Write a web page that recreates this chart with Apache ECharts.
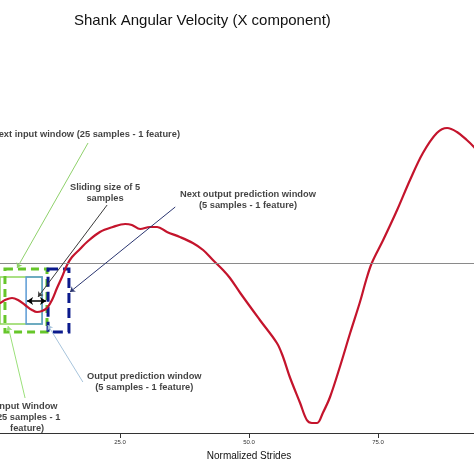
<!DOCTYPE html>
<html>
<head>
<meta charset="utf-8">
<script src="https://cdn.jsdelivr.net/npm/echarts@6/dist/echarts.min.js"></script>
<style>
  html, body { margin: 0; padding: 0; background: #fff; }
  #main { width: 474px; height: 474px; }
</style>
</head>
<body>
<div id="main"></div>
<script>
// 曲线数据（横轴：归一化步幅，纵轴：角速度）
var strides = [1.0, 1.74, 2.71, 4.07, 5.23, 6.59, 7.95, 8.91, 9.88, 10.85, 11.82, 12.79, 13.76, 14.73,
  15.7, 17.25, 18.6, 21.1, 23.6, 26.0, 27.3, 28.9, 30.8, 32.2, 34.1, 36.6, 39.1, 41.1, 43.0, 44.96,
  46.3, 48.3, 52.1, 55.4, 56.6, 57.9, 59.9, 61.2, 62.2, 63.2, 64.3, 65.7, 67.6, 69.6, 71.5, 72.7,
  73.8, 76.0, 78.7, 81.2, 83.7, 86.4, 88.4, 90.3, 92.2, 93.6, 94.5];
var velocity = [-41, -40, -37, -35, -37, -42, -47, -49, -48, -45, -37, -25, -14, -2,
  6, 14, 21, 31, 36, 39, 38, 34, 36, 36, 31, 26, 20, 13, 3, -7,
  -15, -30, -57, -80, -94, -114, -140, -157, -160, -160, -150, -134, -104, -70, -39, -17,
  0, 23, 53, 83, 110, 130, 135, 131, 123, 116, 110];

// 可见横轴范围与刻度
var xRange = [1.74, 93.6];
var xTicks = [25, 50, 75];

// 窗口框（数据坐标）
var boxNames = ['input', 'output', 'nextInput', 'nextOutput'];
var boxX = [[0, 9.9], [6.8, 9.9], [2.7, 10.85], [11.05, 15.1]];
var boxY = [[-14, -61], [-14, -61], [-6, -69], [-6, -69]];

// 引线（起点 -> 终点，数据坐标）
var leaderNames = ['nextInput', 'sliding', 'nextOutput', 'output', 'input'];
var leaderFrom = [[18.8, 120], [22.5, 58], [35.7, 56], [17.8, -119], [6.6, -135]];
var leaderTo = [[5.04, -5], [9.1, -34], [15.3, -29], [11.0, -62], [3.3, -63]];

// 滑动箭头
var slideFrom = [6.98, -38];
var slideTo = [10.66, -38];

// 注释文字
var noteTexts = [
  'Next input window (25 samples - 1 feature)',
  'Sliding size of 5\nsamples',
  'Next output prediction window\n(5 samples - 1 feature)',
  'Output prediction window\n(5 samples - 1 feature)',
  'Input Window\n(25 samples - 1\nfeature)'
];
var noteX = [18.4, 22.1, 49.8, 29.7, 7.0];
var noteY = [129, 70, 63, -119, -154];

var boxStyle = {
  input: { borderColor: '#8fd65c', borderWidth: 1.5, borderType: 'solid' },
  output: { borderColor: '#5b9bd5', borderWidth: 1.5, borderType: 'solid' },
  nextInput: { borderColor: '#66c62a', borderWidth: 3, borderType: [8, 5] },
  nextOutput: { borderColor: '#0b1a8c', borderWidth: 3, borderType: [10, 5] }
};
var leaderColor = {
  nextInput: '#8fd16b',
  sliding: '#3a3a3a',
  nextOutput: '#2a3570',
  output: '#a7c4dc',
  input: '#9be07a'
};

var chart = echarts.init(document.getElementById('main'));

var curve = strides.map(function (x, i) { return [x, velocity[i]]; });

var areaData = boxNames.map(function (n, i) {
  var s = boxStyle[n];
  return [
    { coord: [boxX[i][0], boxY[i][0]], itemStyle: {
      color: 'rgba(0,0,0,0)', borderColor: s.borderColor,
      borderWidth: s.borderWidth, borderType: s.borderType } },
    { coord: [boxX[i][1], boxY[i][1]] }
  ];
});

var lineData = [{ yAxis: 0, symbol: 'none', lineStyle: { color: '#8a8a8a', width: 1, type: 'solid' } }];
leaderNames.forEach(function (n, i) {
  lineData.push([
    { coord: leaderFrom[i], symbol: 'none', lineStyle: { color: leaderColor[n], width: 1, type: 'solid' } },
    { coord: leaderTo[i], symbol: 'arrow', symbolSize: 5 }
  ]);
});
lineData.push([
  { coord: slideFrom, symbol: 'arrow', symbolSize: 6, lineStyle: { color: '#000', width: 1.5, type: 'solid' } },
  { coord: slideTo, symbol: 'arrow', symbolSize: 6 }
]);

var option = {
  animation: false,
  title: {
    text: 'Shank Angular Velocity (X component)',
    left: 69,
    top: 8,
    textStyle: { fontFamily: 'Liberation Sans', fontSize: 15, fontWeight: 'normal', color: '#111' }
  },
  grid: { left: 0, right: 0, top: 103, bottom: 41 },
  xAxis: {
    type: 'value',
    min: xRange[0],
    max: xRange[1],
    name: 'Normalized Strides',
    nameLocation: 'middle',
    nameGap: 18,
    nameTextStyle: { fontFamily: 'Liberation Sans', fontSize: 10, color: '#111', padding: [0, 0, 0, 24] },
    axisLine: { onZero: false, lineStyle: { color: '#333', width: 1 } },
    axisTick: { length: 5, customValues: xTicks, lineStyle: { color: '#333' } },
    axisLabel: {
      fontFamily: 'Liberation Sans', fontSize: 6, color: '#333', margin: 6,
      customValues: xTicks,
      formatter: function (v) { return v.toFixed(1); }
    },
    splitLine: { show: false }
  },
  yAxis: { type: 'value', min: -170, max: 160, show: false },
  series: [
    {
      name: 'velocity',
      type: 'line',
      data: curve,
      smooth: 0.35,
      symbol: 'none',
      z: 3,
      lineStyle: { color: '#c4142c', width: 2.2 },
      markArea: { silent: true, data: areaData },
      markLine: {
        silent: true,
        symbol: ['none', 'none'],
        label: { show: false },
        lineStyle: { type: 'solid' },
        data: lineData
      }
    },
    {
      name: 'notes',
      type: 'scatter',
      symbolSize: 1,
      silent: true,
      itemStyle: { color: 'rgba(0,0,0,0)' },
      label: {
        show: true,
        position: 'inside',
        formatter: '{b}',
        fontFamily: 'Liberation Sans',
        fontSize: 9.3,
        fontWeight: 'bold',
        lineHeight: 11,
        align: 'center',
        color: '#111'
      },
      data: noteTexts.map(function (t, i) { return { name: t, value: [noteX[i], noteY[i]] }; })
    }
  ]
};

chart.setOption(option);
</script>
</body>
</html>
